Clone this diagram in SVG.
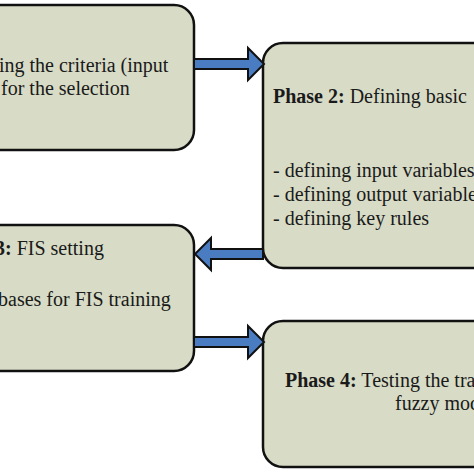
<svg xmlns="http://www.w3.org/2000/svg" width="474" height="474" viewBox="0 0 474 474">
<style>
.box{fill:#d8dcc6;stroke:#111;stroke-width:2.5}
.arr{fill:#4a7cc2;stroke:#111;stroke-width:2;stroke-linejoin:miter}
text{font-family:"Liberation Serif","Times New Roman",serif;font-size:20px;fill:#1a1a1a}
.b{font-weight:bold}
</style>
<rect width="474" height="474" fill="#ffffff"/>
<g id="phase1">
<rect class="box" x="-40" y="5" width="234" height="145" rx="20"/>
<text x="-1" y="72">ing the criteria (input</text>
<text x="1" y="95">for the selection</text>
</g>
<g id="phase2">
<rect class="box" x="263" y="43" width="260" height="225" rx="20"/>
<text x="273" y="103"><tspan class="b">Phase 2:</tspan> Defining basic</text>
<text x="273" y="177">- defining input variables</text>
<text x="273" y="201">- defining output variables</text>
<text x="273" y="225">- defining key rules</text>
</g>
<g id="phase3">
<rect class="box" x="-40" y="225" width="234" height="146" rx="20"/>
<text x="-5" y="255"><tspan class="b">3:</tspan> FIS setting</text>
<text x="-2" y="306">bases for FIS training</text>
</g>
<g id="phase4">
<rect class="box" x="263" y="321" width="260" height="146" rx="20"/>
<text x="285" y="387"><tspan class="b">Phase 4:</tspan> Testing the tra</text>
<text x="395" y="410">fuzzy mod</text>
</g>
<g id="connectors">
<polygon class="arr" points="194,59 248,59 248,48 264,64 248,80 248,69 194,69"/>
<polygon class="arr" points="263,249 211,249 211,238 195,254 211,270 211,259 263,259"/>
<polygon class="arr" points="194,337 248,337 248,326 264,342 248,358 248,347 194,347"/>
</g>
</svg>
